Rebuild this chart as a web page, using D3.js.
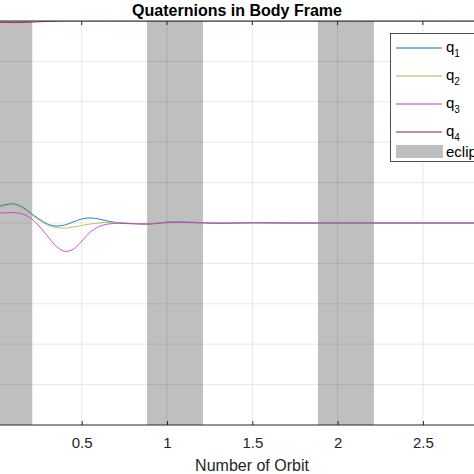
<!DOCTYPE html>
<html>
<head>
<meta charset="utf-8">
<script src="https://cdn.jsdelivr.net/npm/d3@7"></script>
<style>
body { margin: 0; background: #fff; }
text { font-family: Arial, "Liberation Sans", sans-serif; }
</style>
</head>
<body>
<div id="chart"></div>
<script>
// orbit samples
const orbit = [0, 0.05, 0.1, 0.15, 0.2, 0.25, 0.3, 0.35, 0.4, 0.45, 0.5, 0.55, 0.6, 0.65, 0.7, 0.8, 0.9, 1.0, 1.1, 1.2, 1.3, 1.5, 1.7, 2.0, 2.5, 3.0];
const q1 = [0.08, 0.09, 0.095, 0.08, 0.05, 0.02, -0.005, -0.015, -0.01, 0.005, 0.02, 0.025, 0.02, 0.01, 0.003, -0.003, -0.005, 0.005, 0.005, 0.002, 0.0, 0.002, 0.0, 0.0, 0.0, 0.0];
const q2 = [0.075, 0.085, 0.09, 0.075, 0.045, 0.015, -0.01, -0.022, -0.025, -0.02, -0.012, -0.005, 0.0, 0.003, 0.002, -0.002, -0.004, 0.004, 0.004, 0.002, 0.0, 0.001, 0.0, 0.0, 0.0, 0.0];
const q3 = [0.05, 0.05, 0.052, 0.045, 0.025, -0.015, -0.065, -0.115, -0.14, -0.13, -0.09, -0.045, -0.018, -0.006, -0.002, -0.004, -0.005, 0.002, 0.003, 0.0, -0.002, 0.0, 0.0, 0.0, 0.0, 0.0];
const q4 = [0.993, 0.993, 0.992, 0.993, 0.994, 0.996, 0.998, 0.999, 1, 1, 1, 1, 1, 1, 1, 1, 1, 1, 1, 1, 1, 1, 1, 1, 1, 1];
const seriesNames = ["q1", "q2", "q3", "q4"];
const seriesColors = ["#0072BD", "#A8B84A", "#CC33CC", "#A2142F"];
const eclipses = [[0, 0.21], [0.883, 1.211], [1.885, 2.213], [2.885, 3.213]];
const xTicks = [0.5, 1, 1.5, 2, 2.5];

const W = 474, H = 474;
const svg = d3.select("#chart").append("svg").attr("width", W).attr("height", H);

const x = d3.scaleLinear().domain([0, 3]).range([-3.6, 508.2]);
const y = d3.scaleLinear().domain([-1, 1]).range([425, 21]);
const left = 0, right = W;

const plot = svg.append("g");
plot.append("clipPath").attr("id", "clip").append("rect")
    .attr("x", left).attr("y", y(1)).attr("width", right - left).attr("height", y(-1) - y(1));

// eclipse shading
plot.append("g").attr("clip-path", "url(#clip)")
    .selectAll("rect").data(eclipses).enter().append("rect")
    .attr("x", d => x(d[0])).attr("width", d => x(d[1]) - x(d[0]))
    .attr("y", y(1)).attr("height", y(-1) - y(1))
    .attr("fill", "#bfbfbf");

// grid
const grid = plot.append("g").attr("stroke", "#262626").attr("stroke-opacity", 0.13).attr("stroke-width", 0.8);
grid.selectAll(".gx").data(xTicks).enter().append("line")
    .attr("x1", d => x(d)).attr("x2", d => x(d)).attr("y1", y(1)).attr("y2", y(-1));
grid.selectAll(".gy").data(d3.range(-0.8, 1.0, 0.2)).enter().append("line")
    .attr("x1", left).attr("x2", right).attr("y1", d => y(d)).attr("y2", d => y(d));

// lines
const series = [q1, q2, q3, q4];
const line = d3.line().x((d, i) => x(orbit[i])).y(d => y(d)).curve(d3.curveCatmullRom);
plot.append("g").attr("clip-path", "url(#clip)")
    .selectAll("path").data(series).enter().append("path")
    .attr("d", d => line(d)).attr("fill", "none")
    .attr("stroke", (d, i) => seriesColors[i]).attr("stroke-width", 1).attr("stroke-opacity", 0.85);

// axes
const xAxis = d3.axisBottom(x).tickValues(xTicks).tickSize(-4).tickFormat(d3.format(""));
const gx = svg.append("g").attr("transform", "translate(0," + y(-1) + ")").call(xAxis);
gx.select(".domain").attr("d", "M" + left + ",0H" + right).attr("stroke", "#262626");
gx.selectAll(".tick line").attr("stroke", "#262626");
gx.selectAll(".tick text").attr("y", 12).attr("dy", "0.71em").attr("font-size", 15).attr("fill", "#262626");
svg.append("line").attr("x1", left).attr("x2", right).attr("y1", y(1)).attr("y2", y(1)).attr("stroke", "#262626");
svg.append("g").selectAll("line").data(xTicks).enter().append("line")
    .attr("x1", d => x(d)).attr("x2", d => x(d)).attr("y1", y(1)).attr("y2", y(1) + 4).attr("stroke", "#262626");

svg.append("text").attr("x", 252).attr("y", 471).attr("text-anchor", "middle")
    .attr("font-size", 16).attr("fill", "#262626").text("Number of Orbit");
svg.append("text").attr("x", 237).attr("y", 16).attr("text-anchor", "middle")
    .attr("font-size", 16).attr("font-weight", "bold").attr("fill", "#000").text("Quaternions in Body Frame");

// legend
const lg = svg.append("g");
lg.append("rect").attr("x", 390.5).attr("y", 33.5).attr("width", 100).attr("height", 128)
    .attr("fill", "#fff").attr("stroke", "#262626").attr("stroke-width", 0.8);
const rowY = [48, 76, 104, 132];
seriesNames.forEach((n, i) => {
    lg.append("line").attr("x1", 396).attr("x2", 442).attr("y1", rowY[i]).attr("y2", rowY[i])
        .attr("stroke", seriesColors[i]).attr("stroke-width", 1);
    const t = lg.append("text").attr("x", 446).attr("y", rowY[i] + 4).attr("font-size", 15).attr("fill", "#000");
    t.append("tspan").text("q");
    t.append("tspan").attr("font-size", 10).attr("dy", 5).text(n.slice(1));
});
lg.append("rect").attr("x", 396).attr("y", 145).attr("width", 47).attr("height", 13).attr("fill", "#bfbfbf");
lg.append("text").attr("x", 446).attr("y", 157).attr("font-size", 15).attr("fill", "#000").text("eclipse");
</script>
</body>
</html>
